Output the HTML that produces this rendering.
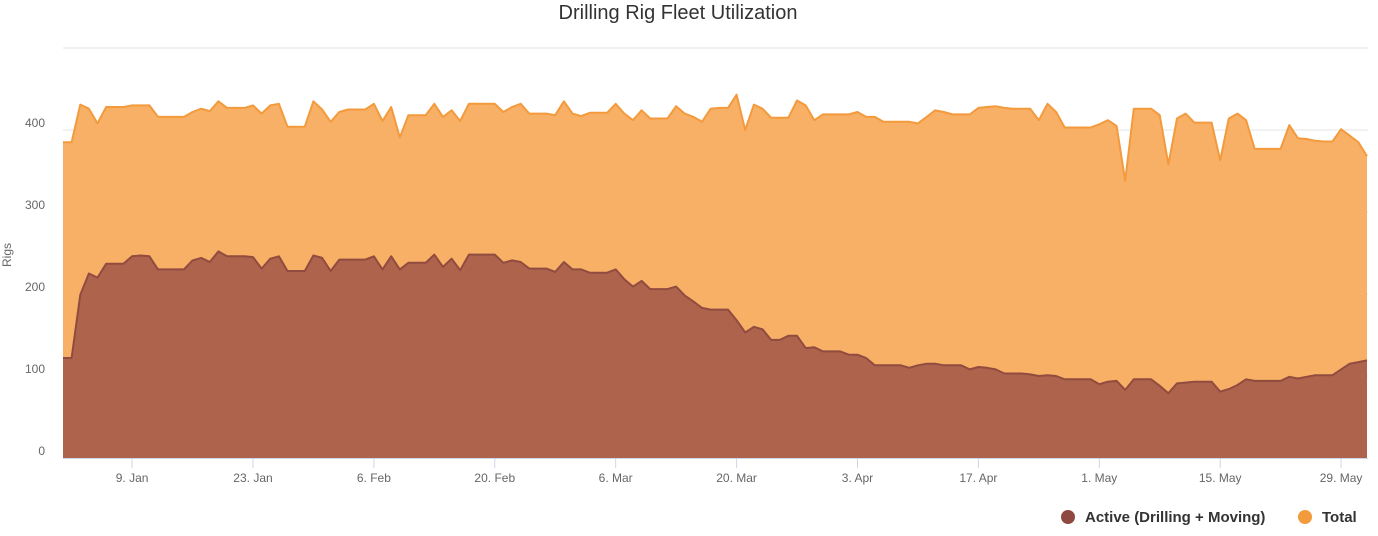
<!DOCTYPE html>
<html><head><meta charset="utf-8"><style>
html,body{margin:0;padding:0;background:#fff;}
svg{display:block;font-family:"Liberation Sans",sans-serif;}
</style></head><body>
<svg id="chart" width="1378" height="536">
<text x="678" y="19" text-anchor="middle" font-size="20" fill="#333">Drilling Rig Fleet Utilization</text>
<text transform="translate(11,255) rotate(-90)" text-anchor="middle" font-size="12" fill="#666">Rigs</text>
<g id="grid"></g>
<g id="series"></g>
<g id="axes"></g>
<g>
<g>
<circle cx="1068" cy="517" r="7" fill="#8e4a40"/>
<text x="1085" y="522" font-size="15" font-weight="bold" fill="#333">Active (Drilling + Moving)</text>
</g>
<g>
<circle cx="1305" cy="517" r="7" fill="#f39a3c"/>
<text x="1322" y="522" font-size="15" font-weight="bold" fill="#333">Total</text>
</g>
</g>
</svg>
<script>
const yTicks=[0,100,200,300,400,500];
const xTickDays=[8,22,36,50,64,78,92,106,120,134,148];
const xTickLabels=["9. Jan","23. Jan","6. Feb","20. Feb","6. Mar","20. Mar","3. Apr","17. Apr","1. May","15. May","29. May"];
const totalValues=[385,385,431,426,408,428,428,428,430,430,430,416,416,416,416,422,426,423,435,427,427,427,430,420,430,432,404,404,404,435,425,410,422,425,425,425,432,411,428,
391,418,418,418,432,416,424,411,432,432,432,432,422,428,432,420,420,420,418,435,420,417,421,421,421,432,420,412,424,414,414,414,429,420,416,410,426,427,
427,443,400,431,426,415,415,415,436,430,412,419,419,419,419,422,416,416,410,410,410,410,408,416,424,422,419,419,419,427,428,429,427,426,426,426,412,
432,422,403,403,403,403,407,412,405,338,426,426,426,418,358,414,420,409,409,409,363,414,420,412,377,377,377,377,406,390,389,387,386,386,401,393,385,368];
const activeValues=[122,122,199,225,220,237,237,237,246,247,246,230,230,230,230,241,244,239,252,246,246,246,245,231,243,246,228,228,228,247,244,228,242,242,242,242,246,230,246,
230,238,238,238,248,233,243,229,248,248,248,248,238,241,239,231,231,231,227,239,230,230,226,226,226,230,218,209,216,206,206,206,209,198,191,183,181,181,
181,168,153,160,157,144,144,149,149,134,135,130,130,130,126,126,122,113,113,113,113,110,113,115,115,113,113,113,108,111,110,108,103,103,103,102,100,
101,100,96,96,96,96,90,93,94,83,96,96,96,88,79,91,92,93,93,93,81,84,89,96,94,94,94,94,99,97,99,101,101,101,108,115,117,119];

const NS="http://www.w3.org/2000/svg";
const X0=63,X1=1367,Y0=458,PX=0.82;
const nDays=totalValues.length;
function xs(i){return X0+i*(X1-X0)/(nDays-1);}
function ys(v){return Y0-v*PX;}
function mk(tag,attrs,parent){const e=document.createElementNS(NS,tag);for(const k in attrs)e.setAttribute(k,attrs[k]);parent.appendChild(e);return e;}
const grid=document.getElementById('grid'),axes=document.getElementById('axes'),ser=document.getElementById('series');
yTicks.forEach(v=>{
  if(v>0){const l=mk('line',{x1:X0,x2:X1+1,y1:ys(v),y2:ys(v),stroke:'#e6e6e6','stroke-width':1},grid);
  
  }
  if(v<500){const t=mk('text',{x:45,y:ys(v)+4-7,'text-anchor':'end','font-size':12,fill:'#666'},axes);
  t.textContent=v;
  
  }
});
function area(vals,fill,stroke,name){
  let d='M'+xs(0)+','+Y0;
  vals.forEach((v,i)=>{d+=' L'+xs(i).toFixed(1)+','+ys(v).toFixed(1);});
  d+=' L'+xs(vals.length-1)+','+Y0+' Z';
  const a=mk('path',{d:d,fill:fill},ser);
  
  
  let ld='';
  vals.forEach((v,i)=>{ld+=(i?' L':'M')+xs(i).toFixed(1)+','+ys(v).toFixed(1);});
  const l=mk('path',{d:ld,fill:'none',stroke:stroke,'stroke-width':2,'stroke-linejoin':'round'},ser);
  
  
}
area(totalValues,'#f7b066','#f39a3c','total');
area(activeValues,'#ae644c','#914b3f','active');
const ax=mk('line',{x1:X0,x2:X1+1,y1:Y0+0.5,y2:Y0+0.5,stroke:'#ccd6eb','stroke-width':1},axes);


xTickDays.forEach((d,k)=>{
  const x=xs(d);
  const tk=mk('line',{x1:x,x2:x,y1:Y0,y2:Y0+10,stroke:'#ccd6eb','stroke-width':1},axes);
  
  
  const t=mk('text',{x:x,y:482,'text-anchor':'middle','font-size':12,fill:'#666'},axes);
  t.textContent=xTickLabels[k];
  
  
});
</script>
</body></html>
